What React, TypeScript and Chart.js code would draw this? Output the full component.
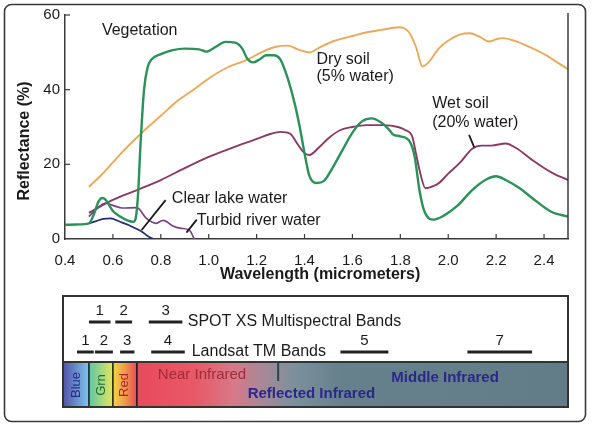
import React, { useEffect, useRef } from 'react';
import { Chart, registerables } from 'chart.js';

Chart.register(...registerables);

const FONT = '"Liberation Sans", Arial, Helvetica, sans-serif';

// ---- axis ticks ----
const wavelengthTicks = [0.4, 0.6, 0.8, 1.0, 1.2, 1.4, 1.6, 1.8, 2.0, 2.2, 2.4];
const reflectanceTicks = [0, 20, 40, 60];

// ---- series (wavelength in micrometers, reflectance in %) ----
const vegetationWl = [0.40, 0.45, 0.50, 0.52, 0.54, 0.555, 0.57, 0.60, 0.63, 0.66, 0.685, 0.695, 0.705, 0.715, 0.73, 0.745, 0.76, 0.80, 0.85, 0.90, 0.96, 0.99, 1.03, 1.07, 1.11, 1.14, 1.16, 1.185, 1.21, 1.24, 1.27, 1.30, 1.33, 1.36, 1.38, 1.40, 1.42, 1.45, 1.48, 1.52, 1.56, 1.60, 1.64, 1.68, 1.72, 1.75, 1.77, 1.80, 1.84, 1.86, 1.88, 1.90, 1.94, 1.98, 2.04, 2.10, 2.16, 2.20, 2.24, 2.30, 2.35, 2.43, 2.50];
const vegetationR = [3.8, 3.9, 4.2, 6.5, 10.0, 11.0, 10.5, 7.5, 6.0, 5.0, 4.6, 5.5, 12, 25, 40, 46, 48, 49.5, 50.6, 51, 50.8, 50.2, 51.5, 52.8, 52.6, 51, 48.4, 47.3, 48, 49.2, 49.2, 48, 43, 36, 30, 23, 17, 15, 15.5, 19.4, 24, 28.5, 31.5, 32.3, 31.2, 29.5, 28, 27.5, 26, 22, 13, 7.5, 5.2, 6.2, 9, 13.1, 16.0, 16.8, 15.8, 13.5, 11, 7.3, 6.0];

const drySoilWl = [0.50, 0.55, 0.60, 0.65, 0.72, 0.80, 0.87, 0.935, 1.00, 1.08, 1.157, 1.22, 1.28, 1.33, 1.38, 1.42, 1.46, 1.517, 1.59, 1.657, 1.72, 1.796, 1.82, 1.84, 1.865, 1.893, 1.92, 1.96, 2.004, 2.05, 2.09, 2.13, 2.17, 2.20, 2.225, 2.28, 2.32, 2.37, 2.41, 2.45, 2.50];
const drySoilR = [14.0, 17, 20.5, 24, 28.4, 33, 37, 39.9, 43, 46, 47.9, 50, 51.5, 51.8, 50.6, 50.0, 51.2, 52.9, 54.2, 55.3, 56, 56.7, 56.3, 55, 51.5, 46.2, 47.5, 51, 53.3, 54.8, 55.1, 54.2, 52.9, 53.5, 53.8, 53, 52, 50.5, 49.2, 47.5, 45.5];

const wetSoilWl = [0.50, 0.55, 0.60, 0.70, 0.80, 0.90, 1.00, 1.10, 1.21, 1.26, 1.30, 1.34, 1.37, 1.40, 1.42, 1.46, 1.50, 1.55, 1.60, 1.66, 1.73, 1.79, 1.82, 1.85, 1.865, 1.88, 1.905, 1.94, 1.96, 2.00, 2.05, 2.10, 2.14, 2.18, 2.24, 2.28, 2.35, 2.40, 2.44, 2.50];
const wetSoilR = [7.0, 8.8, 10.5, 13.1, 15.8, 19, 22, 24.5, 27, 28.2, 28.7, 28.2, 25.5, 23, 22.5, 24.5, 27, 29.2, 30, 30.5, 30.5, 30, 29.2, 27.4, 23, 18.5, 13.6, 14.2, 14.9, 17.5, 20.5, 24.2, 25, 25, 25.6, 24.5, 21.2, 19, 17.5, 15.8];

const clearLakeWl = [0.50, 0.53, 0.56, 0.59, 0.63, 0.67, 0.72, 0.75, 0.77];
const clearLakeR = [4.2, 4.8, 5.4, 5.5, 4.6, 3.6, 2.0, 0.6, 0];

const turbidRiverWl = [0.50, 0.52, 0.57, 0.60, 0.64, 0.70, 0.74, 0.78, 0.81, 0.85, 0.88, 0.92, 0.94];
const turbidRiverR = [6.0, 7.3, 9.6, 9.0, 8.3, 8.4, 5.5, 4.2, 5.0, 3.5, 2.9, 2.3, 0];

// ---- sensor bands (micrometers) ----
const spotBandLabels = ['1', '2', '3'];
const spotBandStart = [0.50, 0.61, 0.75];
const spotBandEnd = [0.59, 0.68, 0.89];
const landsatBandLabels = ['1', '2', '3', '4', '5', '7'];
const landsatBandStart = [0.45, 0.525, 0.63, 0.76, 1.55, 2.08];
const landsatBandEnd = [0.52, 0.60, 0.69, 0.90, 1.75, 2.35];

// ---- visible regions (micrometers) ----
const visibleNames = ['Blue', 'Grn', 'Red'];
const visibleStart = [0.4, 0.5, 0.6];
const visibleEnd = [0.5, 0.6, 0.7];

const pts = (xs: number[], ys: number[]) => xs.map((x, i) => ({ x, y: ys[i] }));

// annotation text anchors (data units: wavelength, reflectance)
const plotLabels = [
  { text: 'Vegetation', x: 0.554, y: 55.7 },
  { text: 'Dry soil', x: 1.45, y: 48.0 },
  { text: '(5% water)', x: 1.45, y: 43.4 },
  { text: 'Wet soil', x: 1.933, y: 36.4 },
  { text: '(20% water)', x: 1.933, y: 31.3 },
  { text: 'Clear lake water', x: 0.846, y: 10.7 },
  { text: 'Turbid river water', x: 0.95, y: 4.8 },
];
const pointers = [
  { x1: 0.72, y1: 2.4, x2: 0.82, y2: 10.4 },
  { x1: 0.907, y1: 1.7, x2: 0.95, y2: 5.2 },
  { x1: 2.087, y1: 27.9, x2: 2.108, y2: 24.6 },
];

const decorPlugin = {
  id: 'decor',
  beforeDraw(chart: any) {
    const ctx = chart.ctx as CanvasRenderingContext2D;
    ctx.save();
    ctx.fillStyle = '#ffffff';
    ctx.fillRect(0, 0, chart.width, chart.height);
    ctx.strokeStyle = '#3a3a3a';
    ctx.lineWidth = 1.6;
    ctx.beginPath();
    (ctx as any).roundRect(4.5, 4.5, 581, 417, 7);
    ctx.stroke();
    ctx.restore();
  },
  afterDraw(chart: any) {
    const ctx = chart.ctx as CanvasRenderingContext2D;
    const xs = chart.scales.x;
    const ys = chart.scales.y;
    const area = chart.chartArea;
    const X = (v: number) => xs.getPixelForValue(v);
    const Y = (v: number) => ys.getPixelForValue(v);
    ctx.save();

    // right frame line of plot
    ctx.strokeStyle = '#3a3a3a';
    ctx.lineWidth = 1.5;
    ctx.beginPath();
    ctx.moveTo(area.right, area.top - 2);
    ctx.lineTo(area.right, area.bottom);
    ctx.stroke();

    // inward tick marks
    ctx.lineWidth = 1.2;
    wavelengthTicks.slice(1).forEach((t) => {
      ctx.beginPath();
      ctx.moveTo(X(t), area.bottom);
      ctx.lineTo(X(t), area.bottom - 5);
      ctx.stroke();
    });
    reflectanceTicks.slice(1).forEach((t) => {
      ctx.beginPath();
      ctx.moveTo(area.left, Y(t));
      ctx.lineTo(area.left + 5, Y(t));
      ctx.stroke();
    });

    // axis titles
    ctx.fillStyle = '#1a1a1a';
    ctx.font = `bold 16px ${FONT}`;
    ctx.textAlign = 'center';
    ctx.textBaseline = 'middle';
    ctx.fillText('Wavelength (micrometers)', X(1.465), 275);
    ctx.save();
    ctx.translate(25, 141);
    ctx.rotate(-Math.PI / 2);
    ctx.fillText('Reflectance (%)', 0, 0);
    ctx.restore();

    // plot annotations
    ctx.font = `16px ${FONT}`;
    ctx.textAlign = 'left';
    ctx.fillStyle = '#1a1a1a';
    plotLabels.forEach((l) => ctx.fillText(l.text, X(l.x), Y(l.y)));
    ctx.strokeStyle = '#1a1a1a';
    ctx.lineWidth = 1.8;
    pointers.forEach((p) => {
      ctx.beginPath();
      ctx.moveTo(X(p.x1), Y(p.y1));
      ctx.lineTo(X(p.x2), Y(p.y2));
      ctx.stroke();
    });

    // ---- bottom panel ----
    const pLeft = X(0.4) - 2;
    const pRight = area.right;
    const pTop = 296;
    const pBottom = 407;
    const barTop = 362;

    // spectrum bar: visible bands
    const visColors = [
      ['#5252a8', '#7ec6ec'],
      ['#5cc8a4', '#e4e65c'],
      ['#f6d648', '#e8485a'],
    ];
    visibleStart.forEach((s, i) => {
      const x0 = i === 0 ? pLeft : X(s);
      const x1 = X(visibleEnd[i]);
      const g = ctx.createLinearGradient(x0, 0, x1, 0);
      g.addColorStop(0, visColors[i][0]);
      if (i === 2) g.addColorStop(0.5, '#f09a48');
      g.addColorStop(1, visColors[i][1]);
      ctx.fillStyle = g;
      ctx.fillRect(x0, barTop, x1 - x0, pBottom - barTop);
    });
    // infrared
    const ir0 = X(0.7);
    const g2 = ctx.createLinearGradient(ir0, 0, pRight, 0);
    const span = pRight - ir0;
    const stop = (w: number) => Math.min(1, Math.max(0, (X(w) - ir0) / span));
    g2.addColorStop(0, '#e84a5c');
    g2.addColorStop(stop(0.95), '#e85a68');
    g2.addColorStop(stop(1.1), '#d87888');
    g2.addColorStop(stop(1.22), '#a88898');
    g2.addColorStop(stop(1.36), '#7c909c');
    g2.addColorStop(stop(1.55), '#66818c');
    g2.addColorStop(1, '#627d88');
    ctx.fillStyle = g2;
    ctx.fillRect(ir0, barTop, pRight - ir0, pBottom - barTop);

    // separators
    ctx.strokeStyle = '#151515';
    ctx.lineWidth = 1.5;
    visibleEnd.forEach((e) => {
      ctx.beginPath();
      ctx.moveTo(X(e), barTop);
      ctx.lineTo(X(e), pBottom);
      ctx.stroke();
    });
    // reflected IR tick
    ctx.strokeStyle = '#2a464e';
    ctx.lineWidth = 2;
    ctx.beginPath();
    ctx.moveTo(X(1.29), barTop);
    ctx.lineTo(X(1.29), barTop + 19);
    ctx.stroke();

    // bar top line and panel frame
    ctx.strokeStyle = '#333';
    ctx.lineWidth = 2;
    ctx.beginPath();
    ctx.moveTo(pLeft, barTop);
    ctx.lineTo(pRight, barTop);
    ctx.stroke();
    ctx.strokeRect(pLeft, pTop, pRight - pLeft, pBottom - pTop);

    // visible band names (vertical)
    const visText = ['#2a2a86', '#1f6a3a', '#b0202e'];
    ctx.font = `13px ${FONT}`;
    ctx.textAlign = 'center';
    visibleNames.forEach((n, i) => {
      const x0 = i === 0 ? pLeft : X(visibleStart[i]);
      const cx = (x0 + X(visibleEnd[i])) / 2;
      ctx.save();
      ctx.translate(cx, 385);
      ctx.rotate(-Math.PI / 2);
      ctx.fillStyle = visText[i];
      ctx.fillText(n, 0, 0);
      ctx.restore();
    });

    ctx.textAlign = 'left';
    ctx.font = `15px ${FONT}`;
    ctx.fillStyle = '#a02c3a';
    ctx.fillText('Near Infrared', X(0.7875), 375);
    ctx.font = `bold 15px ${FONT}`;
    ctx.fillStyle = '#2a2888';
    ctx.fillText('Reflected Infrared', X(1.1625), 394);
    ctx.fillText('Middle Infrared', X(1.7625), 378);

    // sensor bands
    const drawBands = (starts: number[], ends: number[], labels: string[], lineY: number) => {
      ctx.strokeStyle = '#222';
      ctx.lineWidth = 3;
      ctx.fillStyle = '#1a1a1a';
      ctx.font = `15px ${FONT}`;
      ctx.textAlign = 'center';
      starts.forEach((s, i) => {
        ctx.beginPath();
        ctx.moveTo(X(s), lineY);
        ctx.lineTo(X(ends[i]), lineY);
        ctx.stroke();
        ctx.fillText(labels[i], (X(s) + X(ends[i])) / 2, lineY - 11);
      });
    };
    drawBands(spotBandStart, spotBandEnd, spotBandLabels, 322);
    drawBands(landsatBandStart, landsatBandEnd, landsatBandLabels, 352);
    ctx.textAlign = 'left';
    ctx.font = `16px ${FONT}`;
    ctx.fillStyle = '#1a1a1a';
    ctx.fillText('SPOT XS Multispectral Bands', X(0.9125), 322);
    ctx.fillText('Landsat TM Bands', X(0.929), 352);

    ctx.restore();
  },
};

export default function App() {
  const ref = useRef<HTMLCanvasElement | null>(null);
  useEffect(() => {
    if (!ref.current) return;
    Chart.defaults.font.family = FONT;
    const line = (label: string, xs: number[], ysv: number[], color: string, width: number) => ({
      label,
      data: pts(xs, ysv),
      borderColor: color,
      backgroundColor: color,
      borderWidth: width,
      pointRadius: 0,
      fill: false,
      cubicInterpolationMode: 'monotone' as const,
    });
    const chart = new Chart(ref.current, {
      type: 'line',
      data: {
        datasets: [
          line('Vegetation', vegetationWl, vegetationR, '#2a9158', 2.4),
          line('Clear lake water', clearLakeWl, clearLakeR, '#262a78', 1.7),
          line('Turbid river water', turbidRiverWl, turbidRiverR, '#7b3f8c', 1.7),
          line('Wet soil (20% water)', wetSoilWl, wetSoilR, '#8a3a62', 1.9),
          line('Dry soil (5% water)', drySoilWl, drySoilR, '#eaa95a', 1.9),
        ],
      },
      options: {
        responsive: false,
        animation: false,
        events: [],
        layout: { padding: { left: 0, top: 15, right: 25, bottom: 147 } },
        plugins: { legend: { display: false }, tooltip: { enabled: false } },
        scales: {
          x: {
            type: 'linear',
            min: 0.4,
            max: 2.5,
            grid: { display: false, drawTicks: false },
            border: { display: true, color: '#3a3a3a', width: 1.5 },
            afterBuildTicks: (s: any) => {
              s.ticks = wavelengthTicks.map((v) => ({ value: v }));
            },
            afterFit: (s: any) => {
              s.height = 40;
            },
            ticks: {
              padding: 13,
              color: '#1a1a1a',
              font: { size: 15 },
              maxRotation: 0,
              autoSkip: false,
              callback: (v: any) => Number(v).toFixed(1),
            },
          },
          y: {
            type: 'linear',
            min: 0,
            max: 60,
            grid: { display: false, drawTicks: false },
            border: { display: true, color: '#3a3a3a', width: 1.5 },
            afterBuildTicks: (s: any) => {
              s.ticks = reflectanceTicks.map((v) => ({ value: v }));
            },
            afterFit: (s: any) => {
              s.width = 65;
            },
            ticks: {
              padding: 5,
              color: '#1a1a1a',
              font: { size: 15 },
              callback: (v: any) => String(v),
            },
          },
        },
      },
      plugins: [decorPlugin],
    });
    return () => chart.destroy();
  }, []);
  return (
    <div style={{ position: 'absolute', left: 0, top: 0, width: 593, height: 426 }}>
      <canvas ref={ref} width={593} height={426} style={{ display: 'block' }} />
    </div>
  );
}
